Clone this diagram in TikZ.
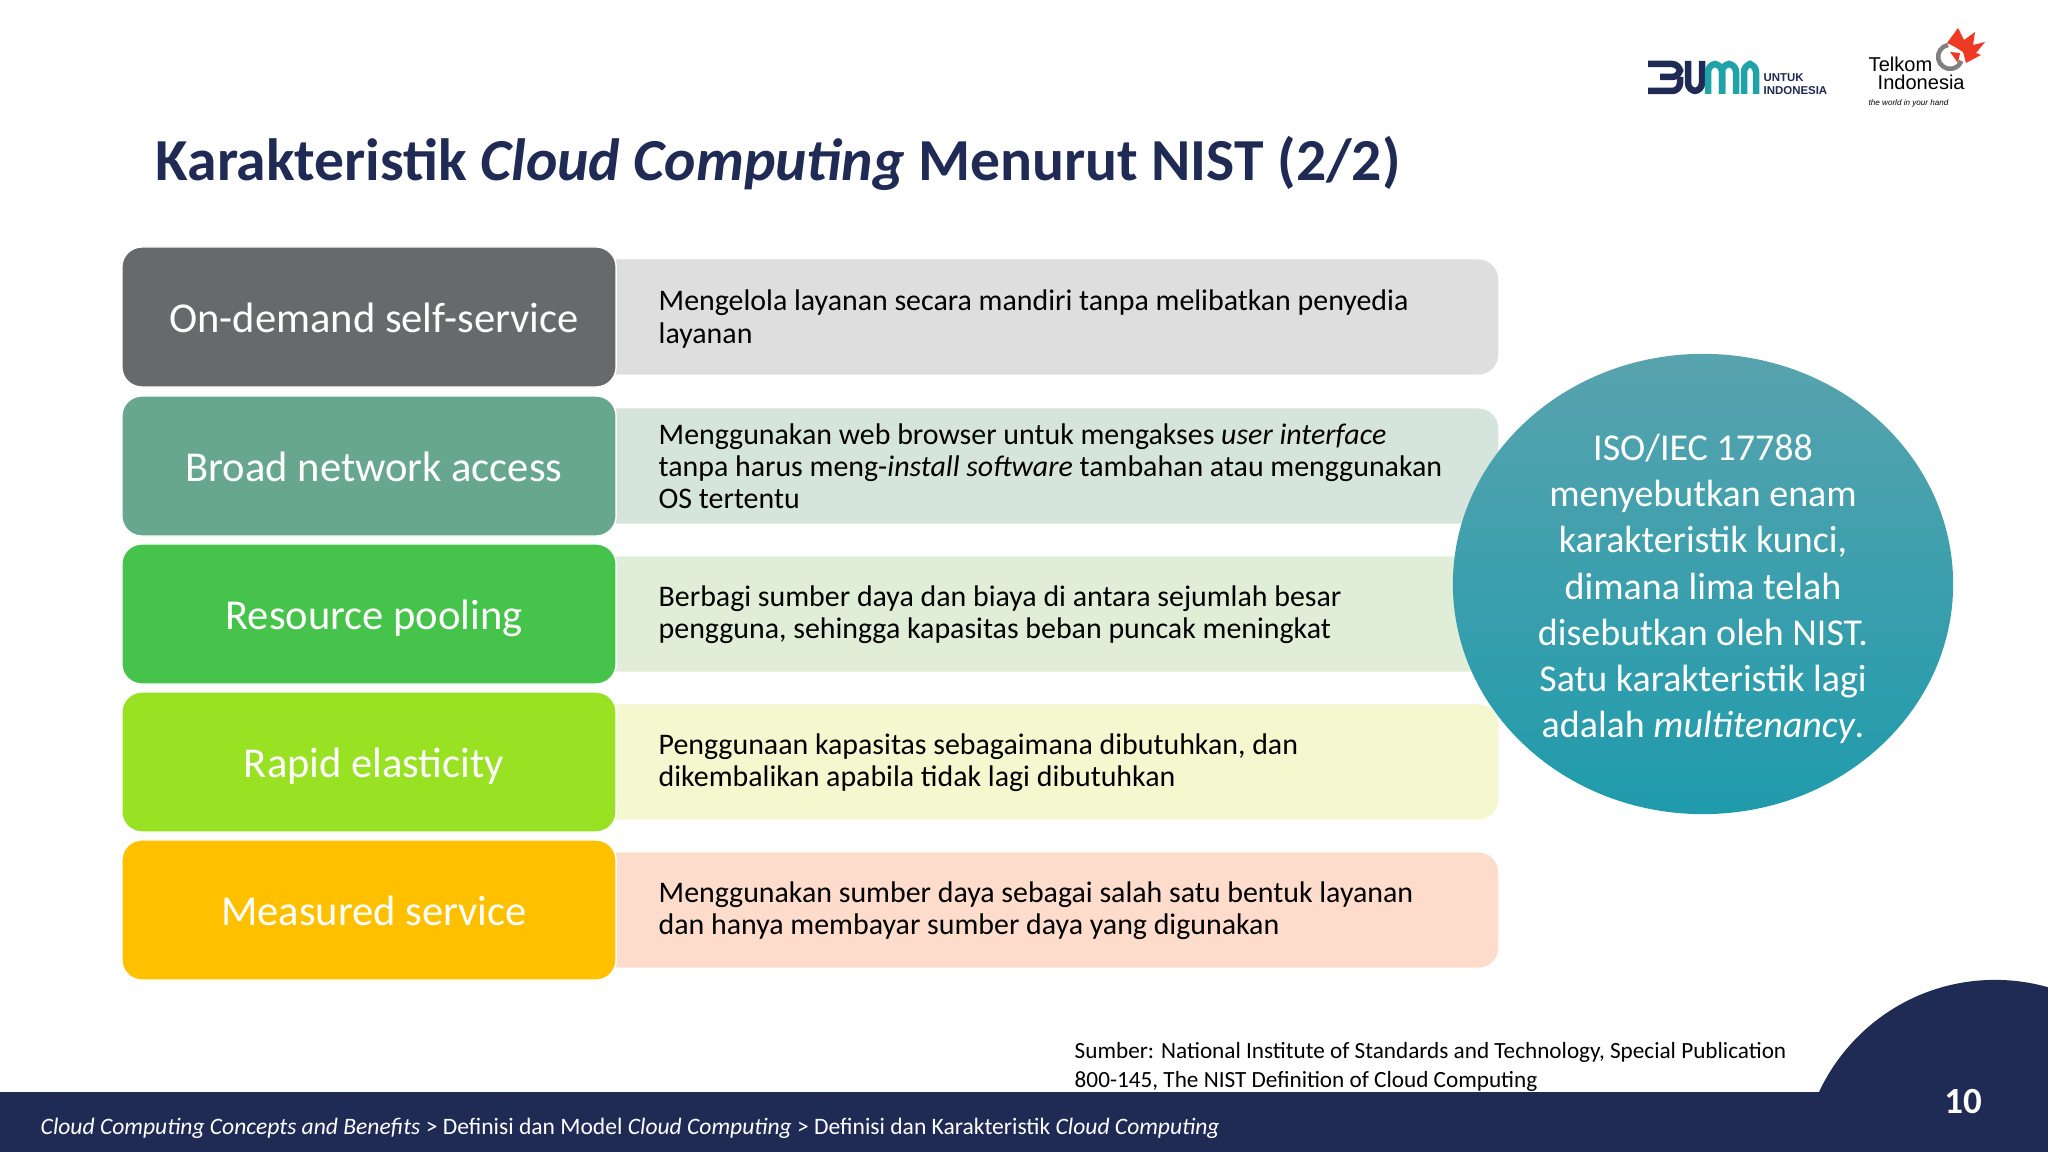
\documentclass[tikz,border=0pt]{standalone}
\usepackage{fontspec}
\setmainfont{Carlito}
\newfontfamily\logofont{Liberation Sans}
\usetikzlibrary{shapes.geometric}

\definecolor{navy}{HTML}{1F2A55}
\definecolor{bumnteal}{HTML}{1FA3A8}
\definecolor{telkomred}{HTML}{EE3A24}
\definecolor{ondemand}{HTML}{68696B}
\definecolor{broad}{HTML}{68A78F}
\definecolor{pooling}{HTML}{46C34A}
\definecolor{elastic}{HTML}{98E223}
\definecolor{measured}{HTML}{FFC000}
\definecolor{ondemandbg}{HTML}{DEDEDF}
\definecolor{broadbg}{HTML}{D5E4DC}
\definecolor{poolingbg}{HTML}{E0EED8}
\definecolor{elasticbg}{HTML}{F5F7CE}
\definecolor{measuredbg}{HTML}{FDDCCB}
\definecolor{isotop}{HTML}{58A3AE}
\definecolor{isobottom}{HTML}{1F9BAC}

\tikzset{
    keybox/.style={draw=white, line width=0.4pt, rounded corners=0.2cm, minimum width=4.94cm, minimum height=1.40cm, text=white, text height=0.3cm, text depth=0pt, font=\fontsize{12.1}{14}\selectfont},
    descbox/.style={rounded corners=0.2cm, minimum width=9.32cm, minimum height=1.15cm, anchor=west},
    desctext/.style={anchor=west, align=left, inner sep=0pt, font=\fontsize{8.5}{9.15}\selectfont},
    smalltext/.style={anchor=west, align=left, inner sep=0pt},
    bumnstroke/.style={line width=0.065cm, rounded corners=0.08cm}
}

\begin{document}
\begin{tikzpicture}[x=0.01cm, y=-0.01cm]
    \useasboundingbox (0,0) rectangle (2048,1152);
    \fill[white] (0,0) rectangle (2048,1152);

    % Footer
    \begin{scope}
        \clip (0,0) rectangle (2048,1152);
        \fill[navy] (1995,1174) circle (1.94cm);
    \end{scope}
    \fill[navy] (0,1092) rectangle (2048,1152);
    \node[smalltext, text=white, font=\fontsize{6.7}{8}\selectfont] (crumbs) at (40,1128) {\textit{Cloud Computing Concepts and Benefits} > Definisi dan Model \textit{Cloud Computing} > Definisi dan Karakteristik \textit{Cloud Computing}};
    \node[text=white, font=\fontsize{10.5}{12}\selectfont\bfseries, inner sep=0pt] (pagenum) at (1963,1102) {10};
    \node[smalltext, font=\fontsize{6.6}{8.05}\selectfont] (source) at (1074,1067) {Sumber: National Institute of Standards and Technology, Special Publication\\800-145, The NIST Definition of Cloud Computing};

    % Title
    \node[anchor=base west, inner sep=0pt, text=navy, font=\fontsize{16.95}{20}\selectfont\bfseries] (title) at (155,181) {Karakteristik \textit{Cloud Computing} Menurut NIST (2/2)};

    % Descriptions
    \foreach \name/\cy/\bg in {a/317/ondemandbg, b/466/broadbg, c/614/poolingbg, d/762/elasticbg, e/910/measuredbg}
        \node[descbox, fill=\bg] (desc\name) at (565,\cy) {};
    \node[desctext] (texta) at (658,319) {Mengelola layanan secara mandiri tanpa melibatkan penyedia\\layanan};
    \node[desctext] (textb) at (658,466) {Menggunakan web browser untuk mengakses \textit{user interface}\\tanpa harus meng-\textit{install software} tambahan atau menggunakan\\OS tertentu};
    \node[desctext] (textc) at (658,615) {Berbagi sumber daya dan biaya di antara sejumlah besar\\pengguna, sehingga kapasitas beban puncak meningkat};
    \node[desctext] (textd) at (658,763) {Penggunaan kapasitas sebagaimana dibutuhkan, dan\\dikembalikan apabila tidak lagi dibutuhkan};
    \node[desctext] (texte) at (658,911) {Menggunakan sumber daya sebagai salah satu bentuk layanan\\dan hanya membayar sumber daya yang digunakan};

    % Characteristics
    \foreach \name/\cy/\fillc/\txt in {a/317/ondemand/On-demand self-service, b/466/broad/Broad network access, c/614/pooling/Resource pooling, d/762/elastic/Rapid elasticity, e/910/measured/Measured service}
        \node[keybox, fill=\fillc] (key\name) at (369,\cy) {\hspace{0.1cm}\txt};

    % Circle
    \node[ellipse, minimum width=5.0cm, minimum height=4.6cm, inner sep=0pt, top color=isotop, bottom color=isobottom] (iso) at (1703,584) {};
    \node[text=white, align=center, inner sep=0pt, font=\fontsize{10.8}{13.15}\selectfont] (isotext) at (1703,589) {ISO/IEC 17788\\menyebutkan enam\\karakteristik kunci,\\dimana lima telah\\disebutkan oleh NIST.\\Satu karakteristik lagi\\adalah \textit{multitenancy}.};

    % BUMN logo
    \draw[navy, bumnstroke] (1648,64) -- (1680,64) -- (1680,77) -- (1660,77);
    \draw[navy, bumnstroke] (1680,77) -- (1680,91) -- (1648,91);
    \draw[navy, bumnstroke] (1688,61) -- (1688,91) -- (1702,91) -- (1702,61);
    \draw[bumnteal, bumnstroke] (1708,94) -- (1708,64) -- (1722,64) -- (1722,94);
    \draw[bumnteal, bumnstroke] (1722,94) -- (1722,64) -- (1736,64) -- (1736,94);
    \draw[bumnteal, bumnstroke] (1744,94) -- (1744,64) -- (1756,64) -- (1756,94);
    \node[anchor=west, inner sep=0pt, text=navy, align=left, font=\logofont\fontsize{3.25}{3.5}\selectfont\bfseries] (bumntext) at (1763,84) {UNTUK\\INDONESIA};

    % Telkom logo
    \draw[gray, line width=0.045cm] (1948,45) arc (100:340:0.12cm);
    \fill[telkomred] (1947,43) -- (1958,28) -- (1964,40) -- (1975,32) -- (1973,45) -- (1985,42) -- (1976,53) -- (1981,55) -- (1966,63) -- (1963,52) -- (1955,47) -- cycle;
    \fill[telkomred] (1950,52) -- (1960,53) -- (1958,63) -- cycle;
    \node[anchor=west, inner sep=0pt, font=\logofont\fontsize{5.7}{6}\selectfont] (telkom) at (1868,64) {Telkom};
    \node[anchor=west, inner sep=0pt, font=\logofont\fontsize{5.7}{6}\selectfont] (indonesia) at (1877,82) {Indonesia};
    \node[anchor=west, inner sep=0pt, font=\logofont\fontsize{2.3}{3}\selectfont\itshape] (tagline) at (1868,103) {the world in your hand};
\end{tikzpicture}
\end{document}
